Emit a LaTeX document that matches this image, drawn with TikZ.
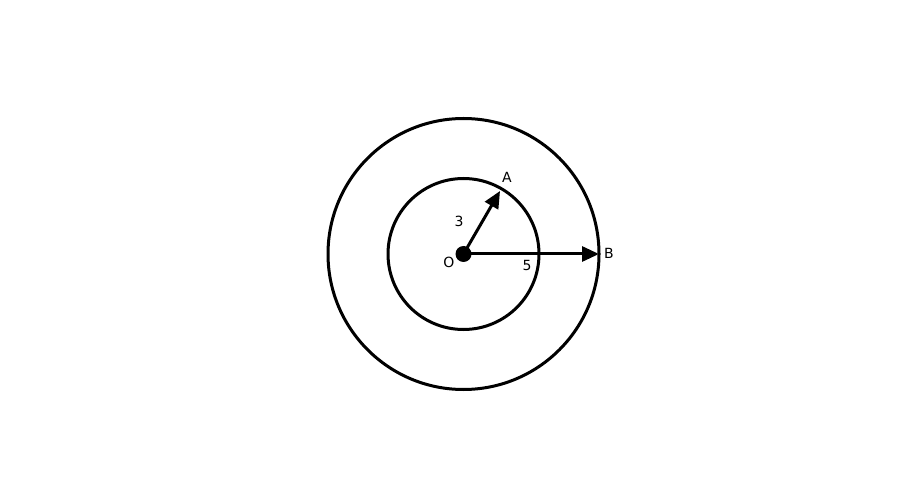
\documentclass[tikz,border=0pt]{standalone}
\usepackage{fontspec}
\setmainfont{DejaVu Sans}
\usetikzlibrary{arrows.meta}
\begin{document}
\begin{tikzpicture}[x=1pt,y=-1pt,
  ring/.style={draw=black,line width=3pt},
  vec/.style={line width=3pt,-{Triangle[length=17pt,width=15pt]}},
  lbl/.style={font=\fontsize{14}{16}\selectfont,inner sep=0pt}]
\useasboundingbox (0,0) rectangle (917,502);
\coordinate (O) at (463.5,254);
\draw[ring] (O) circle[radius=135.5];
\draw[ring] (O) circle[radius=75.5];
\coordinate (A) at (500,191);
\coordinate (B) at (599,254);
\draw[vec] (O) -- (A);
\draw[vec] (O) -- (B);
\fill (O) circle[radius=8];
\node[lbl] (lA) at (507,177) {A};
\node[lbl] (l3) at (459,221) {3};
\node[lbl] (lO) at (449,262) {O};
\node[lbl] (l5) at (527,265) {5};
\node[lbl] (lB) at (609,253) {B};
\end{tikzpicture}
\end{document}
